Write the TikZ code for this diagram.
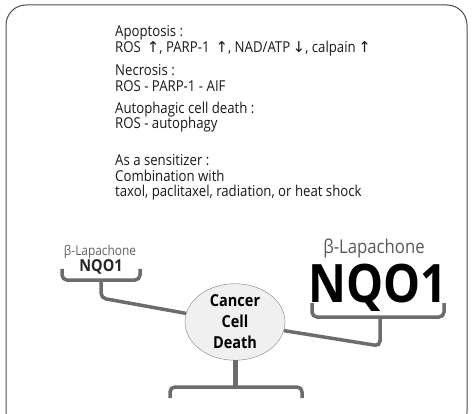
\documentclass[tikz,border=0pt]{standalone}
\usepackage{fontspec}
\setmainfont{Open Sans}[FakeStretch=0.88]
\newfontfamily\arrowfont{DejaVu Sans}
\usetikzlibrary{shapes.geometric}

\tikzset{
  beam/.style={draw=gray!85!black, line width=3.5pt, rounded corners=5pt},
  txt/.style={anchor=base west, inner sep=0pt, text=black!90, font=\fontsize{15}{16}\selectfont},
}
\newcommand{\upar}{{\arrowfont\char"2191}}
\newcommand{\dnar}{{\arrowfont\char"2193}}

\begin{document}
\begin{tikzpicture}[x=1pt, y=-1pt]

% Frame
\useasboundingbox (0,0) rectangle (474,414);
\clip (0,0) rectangle (474,414);
\draw[gray!60!black, line width=1pt, rounded corners=20pt] (6,5) rectangle (467,432);

% Mechanisms
\node[txt] (apo)   at (115,37)  {Apoptosis :};
\node[txt] (apo2)  at (115,53)  {ROS \,\upar, PARP-1 \,\upar, NAD/ATP\,\dnar, calpain\,\upar};
\node[txt] (nec)   at (115,76)  {Necrosis :};
\node[txt] (nec2)  at (115,92)  {ROS - PARP-1 - AIF};
\node[txt] (aut)   at (115,114) {Autophagic cell death :};
\node[txt] (aut2)  at (115,129) {ROS - autophagy};
\node[txt] (sens)  at (115,166) {As a sensitizer :};
\node[txt] (sens2) at (115,182) {Combination with};
\node[txt] (sens3) at (115,197) {taxol, paclitaxel, radiation, or heat shock};

% Balance centre
\node[ellipse, draw=gray, fill=gray!12, minimum width=100pt, minimum height=67pt,
      inner sep=0pt, align=center, font=\fontsize{16.5}{21}\selectfont\bfseries]
      (death) at (235,322) {Cancer\\Cell\\Death};

% Left pan (small)
\node[anchor=base, inner sep=0pt, text=gray!75!black, font=\fontsize{13.5}{14}\selectfont] (lapL) at (100,255) {β-Lapachone};
\node[anchor=base, inner sep=0pt, text=black!85, font=\fontsize{16.5}{18}\selectfont\bfseries] (nqoL) at (101,272) {NQO1};

% Right pan (large)
\node[anchor=base, inner sep=0pt, text=gray!70!black, font=\fontsize{19}{20}\selectfont] (lapR) at (374,254) {β-Lapachone};
\node[anchor=base, inner sep=0pt, font=\fontsize{53}{55}\selectfont\bfseries] (nqoR) at (378,302) {NQO1};

% Brackets
\coordinate (lbr) at (101,280);
\coordinate (lbend) at (101,298);
\draw[beam] (62,269) -- (62,280) -- (140,280) -- (140,269);
\draw[beam] (lbr) -- (lbend) -- (death.170);

\coordinate (rbr) at (380,317);
\coordinate (rbend) at (380,346);
\draw[beam] (312,303) -- (312,317) -- (444,317) -- (444,303);
\draw[beam] (rbr) -- (rbend) -- (death.-10);

\coordinate (bbr) at (235,387);
\draw[beam, line width=5pt] (death.south) -- (bbr);
\draw[beam] (170,398) -- (170,387) -- (302,387) -- (302,398);

\end{tikzpicture}
\end{document}
